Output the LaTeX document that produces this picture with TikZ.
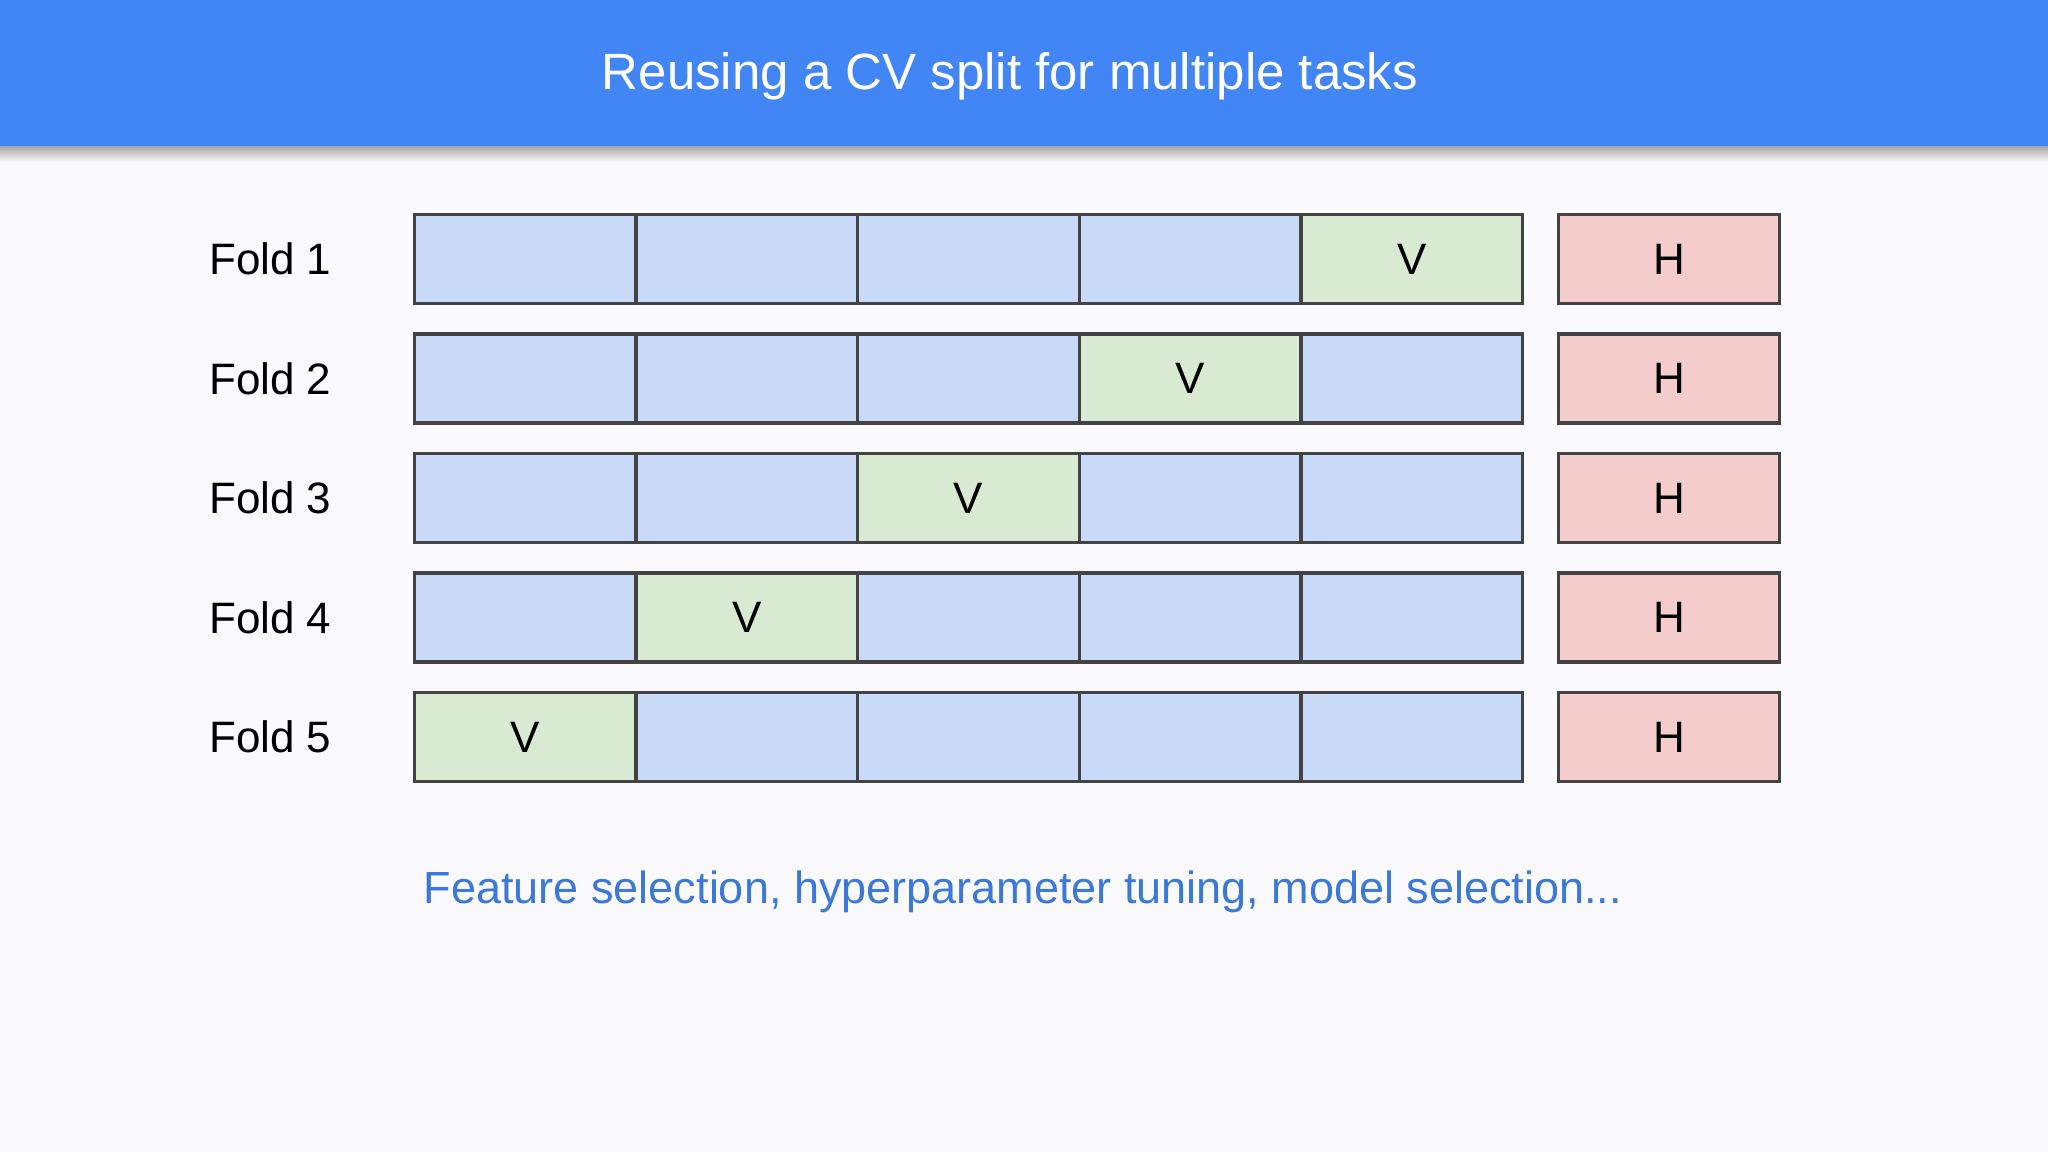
\documentclass[tikz,border=0pt]{standalone}
\usepackage{fontspec}
\setmainfont{Liberation Sans}
\definecolor{barFill}{RGB}{66,133,244}
\definecolor{pageFill}{RGB}{250,250,252}
\definecolor{trainFill}{RGB}{201,218,248}
\definecolor{valFill}{RGB}{217,234,211}
\definecolor{holdFill}{RGB}{244,204,204}
\definecolor{cellLine}{RGB}{67,67,67}
\definecolor{noteText}{RGB}{60,120,216}
\tikzset{
  cell/.style={draw=cellLine, line width=3.5pt, fill=trainFill, minimum width=221.6pt,
               minimum height=89pt, inner sep=0pt, font=\fontsize{44}{52}\selectfont},
  vcell/.style={cell, fill=valFill},
  hcell/.style={cell, fill=holdFill, minimum width=221pt},
  foldlabel/.style={anchor=west, inner sep=0pt, font=\fontsize{44}{52}\selectfont},
}

\begin{document}
\begin{tikzpicture}[x=1pt,y=-1pt]
% page and title bar
\fill[pageFill] (0,0) rectangle (2048,1152);
\shade[top color=black!35, bottom color=pageFill] (0,146) rectangle (2048,162);
\fill[barFill] (0,0) rectangle (2048,146);
\node[text=white, font=\fontsize{51}{60}\selectfont] (title) at (1010,76)
  {Reusing a CV split for multiple tasks};
% folds
\foreach \r in {1,...,5}{
  \pgfmathsetmacro{\yy}{259+119.5*(\r-1)}
  \pgfmathtruncatemacro{\vk}{6-\r}
  \node[foldlabel] (fold\r) at (209,\yy) {Fold \r};
  \foreach \k in {1,...,5}{
    \ifnum\k=\vk
      \node[vcell] (c\r\k) at ({525.3+221.6*(\k-1)},\yy) {V};
    \else
      \node[cell] (c\r\k) at ({525.3+221.6*(\k-1)},\yy) {};
    \fi
  }
  \node[hcell] (h\r) at (1669,\yy) {H};
}
% tasks
\node[text=noteText, font=\fontsize{45}{54}\selectfont] (tasks) at (1023,892)
  {Feature selection, hyperparameter tuning, model selection...};
\end{tikzpicture}
\end{document}
